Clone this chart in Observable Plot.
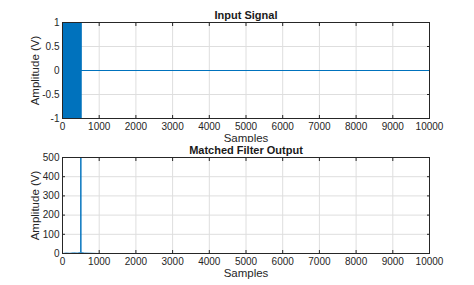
<!DOCTYPE html>
<html>
<head>
<meta charset="utf-8">
<script src="https://cdn.jsdelivr.net/npm/d3@7"></script>
<script src="https://cdn.jsdelivr.net/npm/@observablehq/plot@0.6"></script>
<style>
  html, body { margin: 0; padding: 0; background: #fff; }
  #chart { width: 474px; }
  svg { display: block; }
</style>
</head>
<body>
<div id="chart"></div>
<script>
// ---- data ----
const xTicks = [0, 1000, 2000, 3000, 4000, 5000, 6000, 7000, 8000, 9000, 10000];
const inputYTicks = [-1, -0.5, 0, 0.5, 1];
const outputYTicks = [0, 100, 200, 300, 400, 500];

// BPSK chip sequence (+1 / -1), 10 samples per chip, occupying samples 0..500
const chipSamples = 10;
const chips = [1,-1,1,1,-1,1,-1,-1,1,-1,1,1,1,-1,-1,1,-1,1,-1,1,1,-1,-1,-1,1,
               -1,1,1,-1,1,-1,1,1,-1,-1,1,1,-1,1,-1,-1,1,-1,1,1,-1,1,-1,1,-1];
const signalEnd = 500;
const totalSamples = 10000;

// matched filter output: sample index / value
const mfSamples = [0, 100, 200, 300, 400, 490, 498, 500, 502, 510, 600, 1000, 10000];
const mfValues  = [0, 2,   1,   3,   2,   4,   6,   500, 6,   4,   2,   0,    0];

// ---- build tables ----
const inputData = [];
chips.forEach((c, i) => {
  for (let k = 0; k < chipSamples; k++) {
    inputData.push({x: i * chipSamples + k, y: (k % 2 === 0 ? c : -c)});
  }
});
inputData.push({x: signalEnd, y: 0});
inputData.push({x: totalSamples, y: 0});

const mfData = mfSamples.map((x, i) => ({x, y: mfValues[i]}));

const font = "'Liberation Sans', Arial, Helvetica, sans-serif";
const blue = "#0072BD";
const ink = "#262626";
const fmt = d => String(d);
const blank = () => "";

function panel({title, data, yDomain, yTicks, height, marginTop, marginBottom}) {
  return Plot.plot({
    width: 474,
    height,
    marginTop,
    marginBottom,
    marginLeft: 62,
    marginRight: 45,
    style: {fontFamily: font, fontSize: "10px", color: ink, background: "#fff"},
    x: {domain: [0, 10000]},
    y: {domain: yDomain},
    marks: [
      Plot.gridX(xTicks, {stroke: "#dedede", strokeOpacity: 1}),
      Plot.gridY(yTicks, {stroke: "#dedede", strokeOpacity: 1}),
      Plot.axisX(xTicks, {anchor: "bottom", tickSize: -3, tickPadding: 7, stroke: ink, tickFormat: fmt,
        fontSize: 10, fill: ink, label: null}),
      Plot.axisX({anchor: "bottom", ticks: [], label: "Samples", labelAnchor: "center", labelArrow: "none",
        labelOffset: 23, fontSize: 11.5, fill: ink}),
      Plot.axisX(xTicks, {anchor: "top", tickSize: -3, label: null, tickFormat: blank, stroke: ink}),
      Plot.axisY(yTicks, {anchor: "left", tickSize: -3, tickPadding: 6, stroke: ink, tickFormat: fmt,
        fontSize: 10, fill: ink, label: null}),
      Plot.axisY({anchor: "left", ticks: [], label: "Amplitude (V)", labelAnchor: "center", labelArrow: "none",
        labelOffset: 32, fontSize: 11.5, fill: ink}),
      Plot.axisY(yTicks, {anchor: "right", tickSize: -3, label: null, tickFormat: blank, stroke: ink}),
      Plot.line(data, {x: "x", y: "y", stroke: blue, strokeWidth: 1}),
      Plot.frame({stroke: ink, strokeWidth: 1}),
      Plot.text([title], {frameAnchor: "top", dy: -4, text: d => d,
        fontWeight: "bold", fontSize: 11, fill: "#1a1a1a", lineAnchor: "bottom"})
    ]
  });
}

const chart = document.getElementById("chart");
chart.append(panel({title: "Input Signal", data: inputData, yDomain: [-1, 1], yTicks: inputYTicks,
  height: 142, marginTop: 22, marginBottom: 24}));
chart.append(panel({title: "Matched Filter Output", data: mfData, yDomain: [0, 500], yTicks: outputYTicks,
  height: 143, marginTop: 15, marginBottom: 32}));
</script>
</body>
</html>
